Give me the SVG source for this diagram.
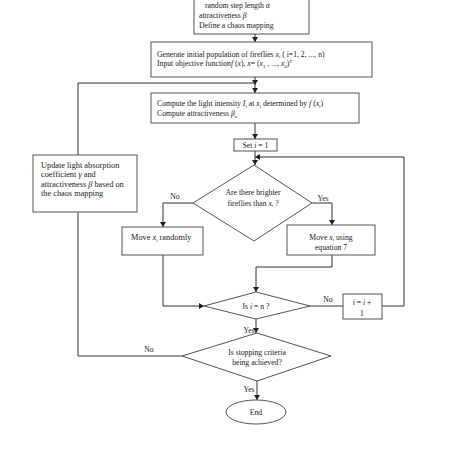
<svg xmlns="http://www.w3.org/2000/svg" width="474" height="474" viewBox="0 0 474 474">
<style>
.b{fill:#fff;stroke:#555;stroke-width:1}
.c{fill:none;stroke:#333;stroke-width:1}
text{font-family:"Liberation Serif","Times New Roman",serif;font-size:7.7px;fill:#222}
.m{text-anchor:middle}
.i{font-style:italic}
.l{font-size:8.3px}
</style>
<defs>
<marker id="a" markerWidth="6" markerHeight="6" refX="5" refY="3" orient="auto" markerUnits="userSpaceOnUse">
<path d="M0,0 L5,3 L0,6 Z" fill="#222"/>
</marker>
</defs>
<rect width="474" height="474" fill="#fff"/>
<g id="connectors">
<path class="c" d="M255,34 V42" marker-end="url(#a)"/>
<path class="c" d="M255,77 V85" marker-end="url(#a)"/>
<path class="c" d="M255,85 V93" marker-end="url(#a)"/>
<path class="c" d="M78,155 V83 H255"/>
<path class="c" d="M255,123 V139" marker-end="url(#a)"/>
<path class="c" d="M255,151 V165" marker-end="url(#a)"/>
<path class="c" d="M382,306 H404 V157 H255" marker-end="url(#a)"/>
<path class="c" d="M193,203 H163 V227" marker-end="url(#a)"/>
<path class="c" d="M312,203 H332 V225" marker-end="url(#a)"/>
<path class="c" d="M163,255 V306 H204" marker-end="url(#a)"/>
<path class="c" d="M332,255 V267 H256 V292" marker-end="url(#a)"/>
<path class="c" d="M310,306 H343"/>
<path class="c" d="M256,319 V333" marker-end="url(#a)"/>
<path class="c" d="M182,356 H78 V212"/>
<path class="c" d="M257,381 V400" marker-end="url(#a)"/>
<text class="m" x="175" y="199">No</text>
<text class="m" x="323" y="201">Yes</text>
<text class="m" x="328" y="302">No</text>
<text class="m" x="249" y="333">Yes</text>
<text class="m" x="149" y="352">No</text>
<text class="m" x="249" y="392">Yes</text>
</g>
<g id="init">
<rect class="b" x="194" y="-5" width="115" height="39"/>
<text x="205" y="7.5">random step length <tspan class="i">α</tspan></text>
<text x="199" y="17.5">attractiveness <tspan class="i">β</tspan></text>
<text x="199" y="27.5">Define a chaos mapping</text>
</g>
<g id="generate">
<rect class="b" x="151" y="42" width="221" height="35"/>
<text x="157" y="56.5">Generate initial population of fireflies <tspan class="i">x</tspan><tspan font-size="5" dy="1.5" class="i">i</tspan><tspan dy="-1.5"> ( i=1, 2, ..., n)</tspan></text>
<text x="157" y="66">Input objective function<tspan class="i">f</tspan> (<tspan class="i">x</tspan>), <tspan class="i">x</tspan>= (<tspan class="i">x</tspan><tspan font-size="5" dy="1.5">1</tspan><tspan dy="-1.5"> , ..., </tspan><tspan class="i">x</tspan><tspan font-size="5" dy="1.5" class="i">d</tspan><tspan dy="-1.5">)</tspan><tspan font-size="5" dy="-3" class="i">T</tspan></text>
</g>
<g id="compute">
<rect class="b" x="151" y="93" width="208" height="30"/>
<text x="157" y="106">Compute the light intensity <tspan class="i">I</tspan><tspan font-size="5" dy="1.5" class="i">i</tspan><tspan dy="-1.5"> at </tspan><tspan class="i">x</tspan><tspan font-size="5" dy="1.5" class="i">i</tspan><tspan dy="-1.5"> determined by </tspan><tspan class="i">f</tspan> (<tspan class="i">x</tspan><tspan font-size="5" dy="1.5" class="i">i</tspan><tspan dy="-1.5">)</tspan></text>
<text x="157" y="116">Compute attractiveness <tspan class="i">β</tspan><tspan font-size="5" dy="1.5" class="i">o</tspan></text>
</g>
<g id="set">
<rect class="b" x="234" y="139" width="43" height="12"/>
<text class="m" x="255.5" y="148">Set <tspan class="i">i</tspan> = 1</text>
</g>
<g id="brighter">
<polygon class="b" points="254,165 312,203 254,241 193,203"/>
<text class="m" x="253" y="194.5">Are there brighter</text>
<text class="m" x="253" y="205.5">fireflies than <tspan class="i">x</tspan><tspan font-size="5" dy="1.5" class="i">i</tspan><tspan dy="-1.5"> ?</tspan></text>
</g>
<g id="update">
<rect class="b" x="33" y="155" width="104" height="57"/>
<text class="l" x="41" y="167.5">Update light absorption</text>
<text class="l" x="41" y="177">coefficient  <tspan class="i">γ</tspan>  and</text>
<text class="l" x="41" y="186.5">attractiveness <tspan class="i">β</tspan>    based on</text>
<text class="l" x="41" y="196">the chaos mapping</text>
</g>
<g id="random">
<rect class="b" x="122" y="227" width="81" height="28"/>
<text class="l" x="131" y="240">Move <tspan class="i">x</tspan><tspan font-size="5" dy="1.5" class="i">i</tspan><tspan dy="-1.5"> randomly</tspan></text>
</g>
<g id="moveeq">
<rect class="b" x="287" y="225" width="88" height="30"/>
<text class="m" x="331" y="239.5">Move <tspan class="i">x</tspan><tspan font-size="5" dy="1.5" class="i">i</tspan><tspan dy="-1.5"> using</tspan></text>
<text class="m" x="331" y="249.5">equation 7</text>
</g>
<g id="isn">
<polygon class="b" points="256,292 310,306 256,319 204,306"/>
<text class="m" x="256" y="308.5">Is <tspan class="i">i</tspan> = n ?</text>
</g>
<g id="incr">
<rect class="b" x="343" y="294" width="39" height="25"/>
<text class="m" x="362" y="305"><tspan class="i">i</tspan> = <tspan class="i">i</tspan>  +</text>
<text class="m" x="362" y="315.5">1</text>
</g>
<g id="stop">
<polygon class="b" points="257,333 331,356 257,381 182,356"/>
<text class="m" x="257" y="354.5">Is stopping criteria</text>
<text class="m" x="257" y="364.5">being achieved?</text>
</g>
<g id="end">
<ellipse class="b" cx="256" cy="412" rx="30" ry="12"/>
<text class="m" x="256" y="415">End</text>
</g>
</svg>
